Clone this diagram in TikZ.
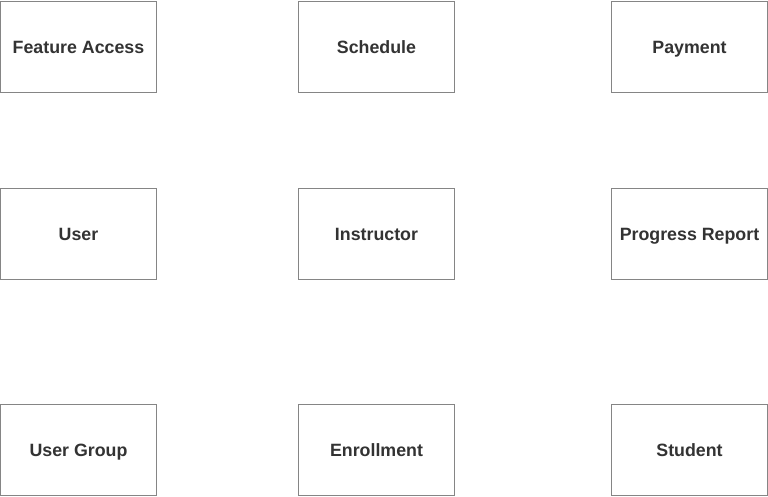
\documentclass[tikz,border=0pt]{standalone}
\usepackage{fontspec}
\setmainfont{Liberation Sans}
\definecolor{boxline}{HTML}{858585}
\definecolor{boxtext}{HTML}{333333}
\begin{document}
\begin{tikzpicture}[x=1pt,y=-1pt,
  entity/.style={draw=boxline, line width=0.9pt, fill=white, minimum width=156pt, minimum height=91pt,
    inner sep=0pt, text=boxtext, font=\fontsize{17.8}{21}\selectfont\bfseries, anchor=center,
    text height=13pt, text depth=0pt}]
\useasboundingbox (0,0) rectangle (768,496);
\node[entity] (fa) at (78.5,47) {Feature Access};
\node[entity] (sch) at (376.5,47) {Schedule};
\node[entity] (pay) at (689.5,47) {Payment};
\node[entity] (usr) at (78.5,233.5) {User};
\node[entity] (ins) at (376.5,233.5) {Instructor};
\node[entity] (pr) at (689.5,233.5) {Progress Report};
\node[entity] (ug) at (78.5,449.5) {User Group};
\node[entity] (enr) at (376.5,449.5) {Enrollment};
\node[entity] (stu) at (689.5,449.5) {Student};
\end{tikzpicture}
\end{document}
